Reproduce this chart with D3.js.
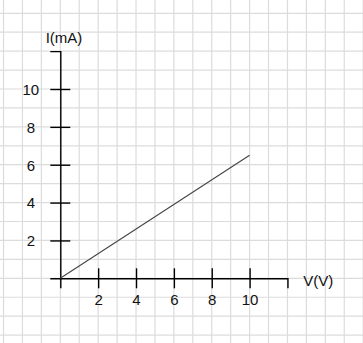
<!DOCTYPE html>
<html>
<head>
<meta charset="utf-8">
<script src="https://cdn.jsdelivr.net/npm/d3@7"></script>
<style>
  html, body { margin: 0; padding: 0; background: #fff; }
  svg { display: block; }
</style>
</head>
<body>
<div id="caja"></div>
<script>
// datos de la grafica V-I
var voltaje = [0, 10];
var corriente = [0, 6.5];
var ticksV = [2, 4, 6, 8, 10];
var ticksI = [2, 4, 6, 8, 10];

var w = 363, h = 343;
var unidad = 18.93;           // px por unidad (una celda de la cuadricula)
var x0 = 60.3, y0 = 278.3;    // origen

var x = d3.scaleLinear().domain([0, 12]).range([x0, x0 + 12 * unidad]);
var y = d3.scaleLinear().domain([0, 12]).range([y0, y0 - 12 * unidad]);

var svg = d3.select('#caja')
  .append('svg')
  .attr('width', w)
  .attr('height', h)
  .style('background', '#fff');

// cuadricula de fondo
var grid = svg.append('g').attr('class', 'grid');
grid.selectAll('line.v')
  .data(d3.range(-4, 17))
  .enter().append('line')
  .attr('class', 'v')
  .attr('x1', function(d) { return x(d); })
  .attr('x2', function(d) { return x(d); })
  .attr('y1', 0).attr('y2', h)
  .attr('stroke', '#dcdcdc')
  .attr('stroke-width', 1.2);
grid.selectAll('line.h')
  .data(d3.range(-4, 16))
  .enter().append('line')
  .attr('class', 'h')
  .attr('y1', function(d) { return y(d); })
  .attr('y2', function(d) { return y(d); })
  .attr('x1', 0).attr('x2', w)
  .attr('stroke', '#dcdcdc')
  .attr('stroke-width', 1.2);

var fuente = "'Liberation Sans', Arial, sans-serif";

// eje x
var ejeX = svg.append('g')
  .attr('transform', 'translate(0,' + y0 + ')')
  .call(d3.axisBottom(x).tickValues(ticksV).tickSizeOuter(0).tickSize(10));
ejeX.select('.domain').attr('stroke', '#000').attr('stroke-width', 1.4);
ejeX.selectAll('.tick line').attr('y1', -10).attr('y2', 10)
  .attr('stroke', '#000').attr('stroke-width', 1.4);
ejeX.selectAll('.tick text')
  .attr('y', 27).attr('dy', null)
  .attr('font-family', fuente).attr('font-size', 15).attr('fill', '#111');

// eje y
var ejeY = svg.append('g')
  .attr('transform', 'translate(' + x0 + ',0)')
  .call(d3.axisLeft(y).tickValues(ticksI).tickSizeOuter(0).tickSize(10));
ejeY.select('.domain').attr('stroke', '#000').attr('stroke-width', 1.4);
ejeY.selectAll('.tick line').attr('x1', -10).attr('x2', 10)
  .attr('stroke', '#000').attr('stroke-width', 1.4);
ejeY.selectAll('.tick text')
  .attr('x', -29.5).attr('text-anchor', 'middle').attr('dy', '0.36em')
  .attr('font-family', fuente).attr('font-size', 15).attr('fill', '#111');

// recta I = f(V)
var puntos = voltaje.map(function(v, i) { return [v, corriente[i]]; });
svg.append('path')
  .datum(puntos)
  .attr('d', d3.line().x(function(d) { return x(d[0]); }).y(function(d) { return y(d[1]); }))
  .attr('fill', 'none')
  .attr('stroke', '#444')
  .attr('stroke-width', 1.1);

// titulos de los ejes
svg.append('text')
  .text('I(mA)')
  .attr('x', 45.7).attr('y', 42.7)
  .attr('font-family', fuente).attr('font-size', 15).attr('fill', '#111');
svg.append('text')
  .text('V(V)')
  .attr('x', 303.3).attr('y', 286)
  .attr('font-family', fuente).attr('font-size', 15).attr('fill', '#111');
</script>
</body>
</html>
